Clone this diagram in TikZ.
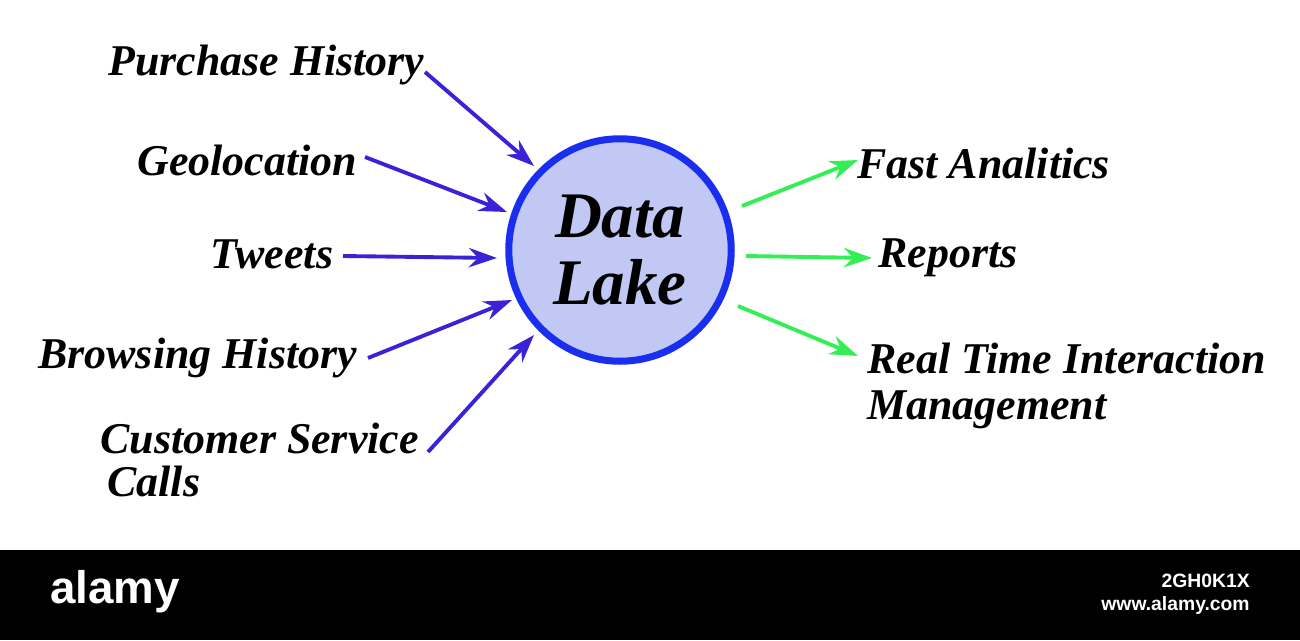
\documentclass[tikz,border=0pt]{standalone}
\usepackage{fontspec}
\setmainfont{Liberation Serif}
\newfontfamily\barfont{Liberation Sans}
\usetikzlibrary{arrows.meta}
\definecolor{inblue}{HTML}{3A22D8}
\definecolor{outgreen}{HTML}{33EE55}
\definecolor{lakefill}{HTML}{C2C8F4}
\definecolor{lakeline}{HTML}{1A2EF0}
\begin{document}
\begin{tikzpicture}[x=0.02cm,y=-0.02cm,
  lbl/.style={anchor=west,inner sep=0pt,font=\fontsize{25}{28}\selectfont\bfseries\itshape},
  inarr/.style={draw=inblue,line width=2.2pt,-{Stealth[length=16pt,width=11pt]}},
  outarr/.style={draw=outgreen,line width=2.2pt,-{Stealth[length=16pt,width=11pt]}}]
\useasboundingbox (0,0) rectangle (1300,640);
\fill[black] (0,550) rectangle (1300,640);
\node[circle,draw=lakeline,fill=lakefill,line width=4pt,minimum size=4.45cm,align=center,
  font=\fontsize{37}{38}\selectfont\bfseries\itshape] (lake) at (620,250) {Data\\Lake};
\node[lbl] (ph) at (108,65) {Purchase History};
\node[lbl] (geo) at (137,160) {Geolocation};
\node[lbl] (tw) at (210,254) {Tweets};
\node[lbl] (bh) at (38,358) {Browsing History};
\node[lbl,align=left] (cs) at (100,460) {Customer Service\\[-4pt]\hspace*{4pt}Calls};
\node[lbl] (fa) at (857,163) {Fast Analitics};
\node[lbl] (rep) at (878,258) {Reports};
\node[lbl,align=left] (rt) at (867,386) {Real Time Interaction\\[-2pt]Management};
\coordinate (a1) at (425,72); \coordinate (b1) at (534,166);
\coordinate (a2) at (365,157); \coordinate (b2) at (507,212);
\coordinate (a3) at (343,256); \coordinate (b3) at (497,258);
\coordinate (a4) at (368,358); \coordinate (b4) at (512,300);
\coordinate (a5) at (428,452); \coordinate (b5) at (534,335);
\draw[inarr] (a1) -- (b1);
\draw[inarr] (a2) -- (b2);
\draw[inarr] (a3) -- (b3);
\draw[inarr] (a4) -- (b4);
\draw[inarr] (a5) -- (b5);
\coordinate (c1) at (742,206); \coordinate (d1) at (858,160);
\coordinate (c2) at (746,256); \coordinate (d2) at (872,258);
\coordinate (c3) at (738,306); \coordinate (d3) at (858,356);
\draw[outarr] (c1) -- (d1);
\draw[outarr] (c2) -- (d2);
\draw[outarr] (c3) -- (d3);
\node[anchor=west,text=white,inner sep=0pt,font=\barfont\bfseries\fontsize{26}{28}\selectfont] (al) at (50,592) {alamy};
\node[anchor=east,text=white,inner sep=0pt,font=\barfont\bfseries\fontsize{11}{13}\selectfont] (id) at (1250,581) {2GH0K1X};
\node[anchor=east,text=white,inner sep=0pt,font=\barfont\bfseries\fontsize{11}{13}\selectfont] (www) at (1250,605) {www.alamy.com};
\end{tikzpicture}
\end{document}
